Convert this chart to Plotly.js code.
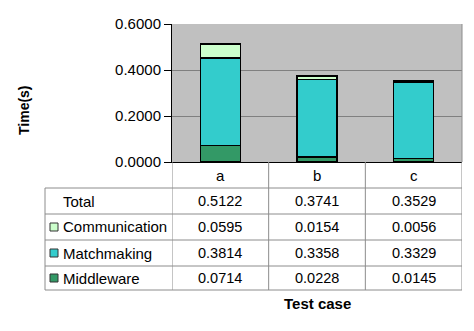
<!DOCTYPE html>
<html>
<head>
<meta charset="utf-8">
<script src="https://cdn.plot.ly/plotly-3.0.1.min.js"></script>
<style>html,body{margin:0;padding:0;background:#fff}#chart{width:474px;height:331px}</style>
</head>
<body>
<div id="chart"></div>
<script>
const categories = ['a', 'b', 'c'];
const middleware = [0.0714, 0.0228, 0.0145];
const matchmaking = [0.3814, 0.3358, 0.3329];
const communication = [0.0595, 0.0154, 0.0056];
const totals = [0.5122, 0.3741, 0.3529];
const seriesNames = ['Communication', 'Matchmaking', 'Middleware'];
const yTicks = [0, 0.2, 0.4, 0.6];

const colors = {Communication: '#ccffcc', Matchmaking: '#33cccc', Middleware: '#339966'};
const FONT = '"Liberation Sans", Arial, sans-serif';

// layout geometry (pixels)
const W = 474, H = 331;
const mL = 172, mR = 12, mT = 24, mB = 169;
const plotW = W - mL - mR, plotH = H - mT - mB;
const xp = px => (px - mL) / plotW;
const yp = py => (H - mB - py) / plotH;

const traces = [
  {name: 'Middleware', y: middleware},
  {name: 'Matchmaking', y: matchmaking},
  {name: 'Communication', y: communication}
].map(s => ({
  type: 'bar', x: categories, y: s.y, name: s.name,
  marker: {color: colors[s.name], line: {color: '#000', width: 1.5}},
  hoverinfo: 'skip'
}));

const shapes = [];
const annotations = [];
const lineCol = '#8c8c8c';
const rowsY = [162, 188, 214, 240, 266, 290];
const tableLeft = 45, tableRight = 462;
// horizontal lines
for (let i = 1; i < rowsY.length; i++) {
  shapes.push({type: 'line', xref: 'paper', yref: 'paper', x0: xp(tableLeft), x1: xp(tableRight),
    y0: yp(rowsY[i]), y1: yp(rowsY[i]), line: {color: lineCol, width: 1}});
}
// vertical lines: category boundaries
for (let k = 0; k <= categories.length; k++) {
  shapes.push({type: 'line', xref: 'x', yref: 'paper', x0: k - 0.5, x1: k - 0.5,
    y0: yp(rowsY[0]), y1: yp(rowsY[rowsY.length - 1]), line: {color: lineCol, width: 1}});
}
shapes.push({type: 'line', xref: 'paper', yref: 'paper', x0: xp(tableLeft), x1: xp(tableLeft),
  y0: yp(rowsY[1]), y1: yp(rowsY[rowsY.length - 1]), line: {color: lineCol, width: 1}});
// right border of plot area
shapes.push({type: 'line', xref: 'paper', yref: 'paper', x0: 1, x1: 1, y0: 0, y1: 1,
  line: {color: lineCol, width: 1}});

const rowCenter = i => yp((rowsY[i] + rowsY[i + 1]) / 2);
const txt = (o) => Object.assign({showarrow: false, xanchor: 'center', yanchor: 'middle'}, o);
// header row: category labels
categories.forEach((c, k) => annotations.push(txt({xref: 'x', yref: 'paper', x: k, y: rowCenter(0),
  text: c, font: {family: FONT, size: 15, color: '#000'}})));
// data rows
const rows = [
  {label: 'Total', vals: totals, key: null},
  {label: 'Communication', vals: communication, key: 'Communication'},
  {label: 'Matchmaking', vals: matchmaking, key: 'Matchmaking'},
  {label: 'Middleware', vals: middleware, key: 'Middleware'}
];
rows.forEach((r, i) => {
  const yc = rowCenter(i + 1);
  annotations.push(txt({xref: 'paper', yref: 'paper', x: xp(61), y: yc, xanchor: 'left',
    text: r.label, font: {family: FONT, size: 15, color: '#000'}}));
  if (r.key) {
    const pyc = (rowsY[i + 1] + rowsY[i + 2]) / 2;
    shapes.push({type: 'rect', xref: 'paper', yref: 'paper', x0: xp(50), x1: xp(58),
      y0: yp(pyc + 4), y1: yp(pyc - 4), fillcolor: colors[r.key], line: {color: '#333', width: 1}});
  }
  r.vals.forEach((v, k) => annotations.push(txt({xref: 'x', yref: 'paper', x: k, y: yc,
    text: v.toFixed(4), font: {family: FONT, size: 14.5, color: '#000'}})));
});
annotations.push(txt({xref: 'paper', yref: 'paper', x: xp(24), y: yp(110), text: '<b>Time(s)</b>',
  textangle: -90, font: {family: FONT, size: 14, color: '#000'}}));
annotations.push(txt({xref: 'x', yref: 'paper', x: 1, y: yp(303), text: '<b>Test case</b>',
  font: {family: FONT, size: 15, color: '#000'}}));

const layout = {
  width: W, height: H,
  margin: {l: mL, r: mR, t: mT, b: mB},
  paper_bgcolor: '#fff', plot_bgcolor: '#c0c0c0',
  barmode: 'stack', bargap: 0.586,
  showlegend: false,
  xaxis: {type: 'category', showticklabels: false, ticks: '', showgrid: false, zeroline: false,
    showline: true, linecolor: '#000', linewidth: 1, range: [-0.5, 2.5], fixedrange: true},
  yaxis: {range: [0, 0.6], tickvals: yTicks, ticktext: yTicks.map(v => v.toFixed(4)),
    ticks: 'outside', ticklen: 7, tickcolor: '#000', showline: true, linecolor: '#000', linewidth: 1,
    gridcolor: '#808080', gridwidth: 1, zeroline: false,
    tickfont: {family: FONT, size: 15, color: '#000'}, fixedrange: true},
  shapes: shapes, annotations: annotations,
  font: {family: FONT}
};
Plotly.newPlot('chart', traces, layout, {staticPlot: true});
</script>
</body>
</html>
